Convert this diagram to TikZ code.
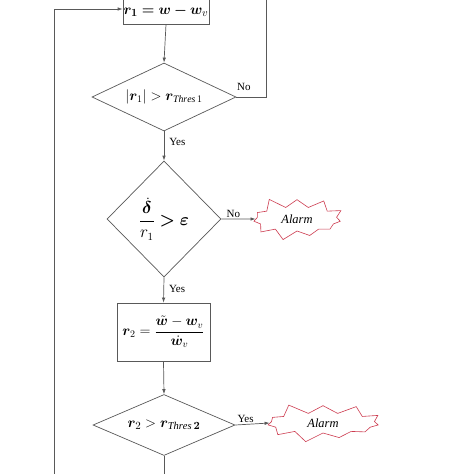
\documentclass[tikz,border=0pt]{standalone}
\usepackage{amsmath}
\usepackage{bm}
\usepackage{fontspec}
\setmainfont{Liberation Serif}
\usetikzlibrary{shapes.geometric,shapes.symbols,arrows.meta}
\definecolor{alarmred}{RGB}{205,60,80}
\tikzset{
  flowline/.style={draw=black!65, line width=0.7pt},
  flowarrow/.style={flowline, -{Latex[length=5pt,width=3.5pt]}},
  flowbox/.style={flowline, shape=rectangle, inner sep=0pt, fill=white, font=\fontsize{14}{16}\selectfont},
  flowdia/.style={flowline, shape=diamond, inner sep=0pt, fill=white, font=\fontsize{14}{16}\selectfont},
  alarmstar/.style={shape=starburst, draw=alarmred, line width=0.6pt, fill=white, inner sep=0pt, starburst points=11, starburst point height=12pt, random starburst=5, font=\fontsize{12.5}{14}\selectfont\itshape},
  flowlbl/.style={font=\fontsize{11}{13}\selectfont, inner sep=1pt}
}
\begin{document}
\begin{tikzpicture}[x=1pt,y=-1pt]
\useasboundingbox (0,0) rectangle (474,474);
\clip (0,0) rectangle (474,474);
\fill[white] (0,0) rectangle (474,474);

\node[flowbox, minimum width=86pt, minimum height=32pt] (b1) at (166,8) {};
\node[font=\fontsize{15}{17}\selectfont, inner sep=0pt] (b1t) at (166,11) {$\bm{r}_{\bm 1} \bm{=} \bm{w} \bm{-} \bm{w}_v$};
\node[flowdia, minimum width=144pt, minimum height=68pt, aspect=2.1] (d1) at (164,97) {$\left|\bm{r}_1\right| > \bm{r}_{\mathit{Thres}\,1}$};
\node[flowdia, minimum width=114pt, minimum height=116pt, aspect=1, font=\fontsize{16}{18}\selectfont] (d2) at (164,219) {$\dfrac{\dot{\bm\delta}}{r_1} \bm{>} \bm\varepsilon$};
\node[flowbox, minimum width=93pt, minimum height=58pt] (b2) at (163.5,332) {$\bm r_2 = \dfrac{\tilde{\bm w} - \bm w_v}{\dot{\bm w}_v}$};
\node[flowdia, minimum width=142pt, minimum height=61pt, aspect=2.3, font=\fontsize{15}{17}\selectfont] (d3) at (164,425) {$\bm r_2 > \bm r_{\mathit{Thres}\,\bm 2}$};

\node[alarmstar, minimum width=104pt, minimum height=48pt] (a1) at (297,219) {Alarm};
\node[alarmstar, minimum width=128pt, minimum height=44pt] (a2) at (323,423) {Alarm};

\coordinate (rtop) at (266,-5);
\coordinate (lbot) at (54,480);
\coordinate (bbot) at (164,480);

\draw[flowarrow] (b1.south) -- (d1.north);
\draw[flowline] (d1.east) -| (rtop);
\node[flowlbl, anchor=south west] at (236,92) {No};
\draw[flowarrow] (lbot) |- ([yshift=-1pt]b1.west);
\draw[flowarrow] (d1.south) -- node[flowlbl, right, pos=0.35, xshift=4pt] {Yes} (d2.north);
\draw[flowarrow] (d2.east) -- node[flowlbl, above, pos=0.35] {No} (a1.west);
\draw[flowarrow] (d2.south) -- node[flowlbl, right, pos=0.45, xshift=4pt] {Yes} (b2.north);
\draw[flowarrow] (b2.south) -- (d3.north);
\draw[flowarrow] (d3.east) -- node[flowlbl, above, pos=0.3] {Yes} (a2.west);
\draw[flowline] (d3.south) -- (bbot);
\end{tikzpicture}
\end{document}
